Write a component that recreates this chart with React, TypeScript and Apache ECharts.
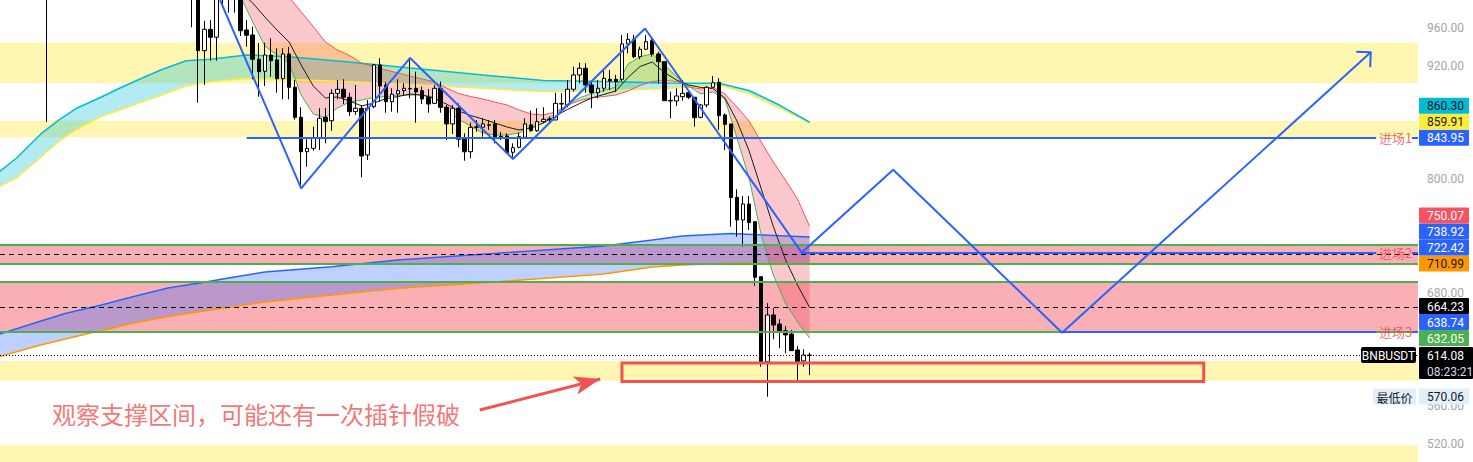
import React, { useEffect, useRef } from 'react';
import * as echarts from 'echarts';

const W = 1473;
const H = 462;
const PLOT_RIGHT = 1418;
const FONT = 'Roboto, "Noto Sans", sans-serif';
const CJK = '"Noto Sans CJK SC", "Noto Sans", sans-serif';

// candles: [barIndex, open, close, low, high]
const candles: number[][] = [
  [8, 1030, 1040, 860.6, 1050],
  [32, 1000, 995, 960.7, 1010],
  [33, 1000, 936.0, 881.0, 1010],
  [34, 936.0, 958.6, 900.0, 967.7],
  [35, 958.6, 950.2, 925.4, 968.5],
  [36, 950.2, 995, 925.4, 1005],
  [37, 1000, 1010, 981.9, 1015],
  [38, 1005, 995, 976.2, 1012],
  [39, 995, 1005, 976.2, 1010],
  [40, 998, 957.1, 951.5, 1005],
  [41, 957.9, 952.3, 940.2, 968.5],
  [42, 952.6, 926.9, 905.7, 961.4],
  [43, 926.9, 913.8, 887.3, 944.1],
  [44, 914.2, 931.4, 898.6, 944.5],
  [45, 931.4, 925.4, 908.5, 949.1],
  [46, 926.2, 906.4, 891.6, 938.5],
  [47, 906.4, 932.5, 884.6, 938.5],
  [48, 932.5, 897.3, 884.6, 940.2],
  [49, 897.3, 865.5, 863.0, 905.0],
  [50, 865.5, 829.1, 790.4, 876.1],
  [51, 829.1, 832.7, 813.3, 842.3],
  [52, 832.7, 844.0, 830.2, 855.6],
  [53, 843.3, 864.5, 830.9, 875.1],
  [54, 865.5, 860.9, 838.0, 875.1],
  [55, 861.9, 890.9, 851.4, 895.2],
  [56, 890.9, 895.2, 884.6, 905.0],
  [57, 895.2, 886.7, 879.6, 905.7],
  [58, 886.7, 871.5, 866.9, 891.6],
  [59, 871.5, 875.1, 868.0, 899.7],
  [60, 875.1, 824.6, 802.1, 878.6],
  [61, 825.7, 875.1, 820.4, 883.8],
  [62, 876.8, 920.9, 875.1, 921.9],
  [63, 920.9, 898.6, 882.0, 928.0],
  [64, 899.7, 882.0, 870.4, 902.9],
  [65, 882.0, 889.9, 871.5, 896.2],
  [66, 890.2, 893.7, 870.4, 905.7],
  [67, 893.7, 896.2, 889.1, 901.5],
  [68, 895.5, 896.0, 885.6, 928.0],
  [69, 896.2, 892.3, 859.8, 913.8],
  [70, 893.7, 884.9, 879.6, 897.9],
  [71, 886.7, 879.6, 870.4, 895.2],
  [72, 880.3, 896.2, 879.6, 899.7],
  [73, 896.2, 876.1, 870.4, 903.2],
  [74, 876.1, 858.5, 841.5, 878.6],
  [75, 858.5, 875.1, 847.9, 878.6],
  [76, 875.1, 842.3, 833.8, 880.3],
  [77, 843.3, 829.1, 819.6, 848.6],
  [78, 829.1, 854.9, 822.2, 859.8],
  [79, 854.9, 855.5, 850.3, 862.7],
  [80, 855.0, 858.5, 845.0, 864.5],
  [81, 857.0, 857.6, 852.1, 862.7],
  [82, 858.5, 843.3, 838.0, 862.7],
  [83, 845.5, 844.6, 841.5, 850.0],
  [84, 845.8, 828.1, 827.5, 848.6],
  [85, 828.5, 833.4, 822.2, 838.0],
  [86, 833.8, 845.0, 832.7, 849.2],
  [87, 844.4, 858.5, 843.0, 864.5],
  [88, 857.4, 851.4, 850.3, 872.5],
  [89, 851.4, 860.9, 850.3, 875.1],
  [90, 860.9, 863.4, 859.2, 876.1],
  [91, 863.0, 863.6, 860.9, 866.2],
  [92, 862.7, 880.3, 862.7, 891.6],
  [93, 880.0, 879.6, 873.3, 891.0],
  [94, 878.6, 895.2, 876.1, 905.0],
  [95, 895.2, 910.3, 892.6, 919.1],
  [96, 910.3, 917.4, 901.5, 923.3],
  [97, 917.4, 899.7, 891.6, 922.7],
  [98, 899.7, 891.6, 875.1, 904.3],
  [99, 891.6, 896.2, 885.6, 905.0],
  [100, 896.2, 906.8, 892.6, 915.6],
  [101, 905.7, 903.9, 894.4, 915.6],
  [102, 905.7, 903.2, 892.6, 910.3],
  [103, 905.7, 943.1, 903.2, 952.6],
  [104, 943.1, 948.0, 933.2, 954.4],
  [105, 948.0, 929.6, 928.0, 952.6],
  [106, 929.6, 937.5, 926.9, 940.2],
  [107, 937.5, 945.5, 936.7, 952.6],
  [108, 946.6, 932.5, 929.6, 949.1],
  [109, 932.5, 924.4, 901.5, 934.9],
  [110, 924.4, 883.1, 883.1, 924.4],
  [111, 883.4, 882.8, 864.5, 892.6],
  [112, 882.8, 888.1, 877.5, 896.2],
  [113, 887.3, 890.9, 883.1, 905.0],
  [114, 891.6, 886.7, 884.9, 893.4],
  [115, 886.7, 865.1, 855.6, 886.7],
  [116, 865.5, 878.5, 864.5, 879.6],
  [117, 878.6, 897.3, 876.1, 898.6],
  [118, 897.3, 902.1, 897.3, 909.2],
  [119, 902.6, 867.2, 852.1, 906.8],
  [120, 868.0, 858.1, 830.9, 869.8],
  [121, 858.5, 780.6, 749.8, 858.5],
  [122, 780.9, 756.9, 739.2, 789.4],
  [123, 756.9, 773.8, 728.7, 782.3],
  [124, 773.8, 754.1, 746.3, 782.3],
  [125, 755.1, 696.3, 687.1, 755.1],
  [126, 696.9, 607.0, 601.7, 696.9],
  [127, 607.0, 656.4, 570.06, 668.8],
  [128, 656.4, 645.8, 630.7, 663.5],
  [129, 646.9, 638.7, 621.2, 651.9],
  [130, 639.8, 635.3, 615.9, 644.8],
  [131, 636.3, 618.7, 618.7, 640.5],
  [132, 619.4, 607.0, 587.7, 623.6],
  [133, 607.8, 614.1, 601.7, 620.1],
  [134, 613.6, 614.08, 592.9, 616.5],
];

// fast MA ribbon (red slow line, green fast line, black line)
const fastIdx = [40, 42, 44, 46, 48, 50, 52, 54, 56, 58, 60, 62, 64, 66, 68, 70, 72, 74, 76, 78, 80, 82, 84, 86, 88, 90, 92, 94, 96, 98, 100, 102, 104, 106, 108, 110, 112, 114, 116, 118, 120, 122, 124, 126, 128, 130, 132, 134];
const fastRed = [1040, 1025, 1012, 1002, 992.8, 977.1, 961.6, 945.2, 936.7, 930.9, 922.7, 919.3, 915.6, 912.4, 909.2, 906.1, 902.9, 896.5, 890.7, 887.5, 884.9, 881.7, 878.5, 873.3, 869.0, 868.0, 871.1, 878.5, 883.3, 886.0, 887.5, 889.1, 893.4, 899.2, 903.4, 904.5, 903.4, 897.6, 895.5, 897.6, 890.2, 876.4, 861.6, 839.4, 818.3, 799.2, 779.1, 750.07];
const fastGreen = [993, 966.3, 941.0, 931.4, 923.0, 889.1, 869.0, 865.3, 875.4, 881.7, 883.8, 886.6, 887.5, 888.6, 889.1, 889.1, 887.0, 873.3, 863.7, 856.1, 848.9, 846.8, 846.8, 848.9, 856.3, 861.6, 869.0, 879.1, 886.0, 890.7, 893.9, 897.5, 921.9, 929.6, 932.5, 920.9, 908.7, 898.6, 890.2, 892.3, 884.9, 843.6, 801.3, 741.0, 698.7, 669.1, 649.0, 632.05];
const fastBlack = [998, 986.4, 971.6, 957.9, 945.2, 920.9, 898.6, 886.0, 887.0, 882.8, 877.5, 880.7, 885.1, 887.5, 890.1, 889.1, 885.4, 879.6, 872.2, 867.4, 863.7, 859.5, 855.3, 852.1, 854.2, 859.5, 866.9, 873.8, 880.1, 886.0, 889.7, 893.4, 907.6, 919.3, 924.0, 912.9, 905.0, 899.7, 897.1, 896.0, 886.0, 861.6, 830.0, 790.0, 750.0, 715.0, 688.0, 664.23];

// tunnel (cyan upper / yellow lower)
const vegasIdx = [0, 3, 7, 10, 13, 17, 20, 23, 27, 31, 35, 41, 48, 57, 68, 80, 90, 100, 110, 119, 124, 129, 134];
const vegasCyan = [807.1, 822.5, 847.9, 862.7, 875.4, 887.0, 896.2, 905.0, 916.1, 925.4, 926.9, 931.4, 929.6, 924.6, 917.7, 910.3, 904.5, 903.4, 901.8, 901.5, 893.9, 878.5, 860.3];
const vegasYellow = [791.8, 801.3, 823.5, 840.2, 852.9, 866.4, 873.3, 880.1, 889.1, 898.6, 903.2, 906.6, 905.5, 903.4, 900.2, 896.2, 892.8, 893.7, 896.0, 899.7, 890.7, 875.4, 859.91];

// slow band (blue upper / orange lower)
const slowIdx = [0, 6, 11, 17, 22, 28, 33, 39, 44, 55, 66, 83, 100, 108, 113, 121, 134];
const slowBlue = [635.8, 648.0, 658.0, 667.0, 675.5, 685.0, 689.9, 696.6, 701.9, 707.5, 714.6, 722.0, 729.4, 735.7, 739.9, 742.6, 738.92];
const slowOrange = [612.0, 623.1, 631.0, 640.0, 647.4, 654.8, 659.9, 665.4, 670.2, 677.6, 684.6, 691.8, 699.8, 707.2, 709.3, 711.4, 710.99];

// price axis
const Y_MIN = 500.9;
const Y_MAX = 989.6;
const tickLabels = [520, 560, 680, 800, 920, 960];

// horizontal zones
const yellowBands = [[944.5, 901.5], [861.9, 844.4], [607.8, 586.9], [518.9, 470]];
const pinkZones = [[731.2, 710.7], [691.6, 638.7]];
const zoneBorders = [731.2, 710.7, 691.6, 638.7];
const zoneMids = [720.9, 664.5];

// entry lines
const entryNames = ['进场1', '进场2', '进场3'];
const entryValues = [843.95, 722.42, 638.74];
const entryStarts = [41, 132.7, 175.7];
const entryGap = [227.6, 233.5];
const entryLabelX = 230.8;
const X_MIN = 0.25;
const X_MAX = 234.5;

// projected path
const zigzag = [[36.6, 989.6], [50, 790.4], [68, 928.3], [85, 821.4], [106.8, 959.5], [132.7, 722.4], [147.8, 810.1], [175.7, 637.7], [226.7, 934.3]];
const arrowHead = [[224.3, 934.9], [226.7, 934.3], [226.6, 918.6]];

// support box + note
const supportBox = [[103, 605.6], [199.1, 586.1]];
const noteArrow = [[79.5, 555.9], [99.4, 588.7]];
const noteText = '观察支撑区间，可能还有一次插针假破';
const notePos = [8.77, 552.7];

const lastPrice = 614.08;
const lastTime = '08:23:21';
const symbolName = 'BNBUSDT';
const lowPrice = 570.06;
const lowName = '最低价';

const tagValues = [860.30, 859.91, 843.95, 750.07, 738.92, 722.42, 710.99, 664.23, 638.74, 632.05, 614.08, 570.06];
const tagBg = ['#00bcd4', '#ffeb3b', '#2962ff', '#f7525f', '#2962ff', '#2962ff', '#ff9800', '#000000', '#2962ff', '#4caf50', '#000000', '#e3eefb'];
const tagFg = ['#131722', '#131722', '#ffffff', '#ffffff', '#ffffff', '#ffffff', '#131722', '#ffffff', '#ffffff', '#ffffff', '#ffffff', '#131722'];

const pairs = (idx: number[], vals: number[]) => idx.map((x, k) => [x, vals[k]]);
const dummy = [[-10, 600]];

// fill between two lines, colour by which is on top
function bandFill(idx: number[], a: number[], b: number[], colorAUp: string, colorBUp: string, z: number): any {
  return {
    type: 'custom', z, silent: true, clip: true,
    data: idx.map((x, k) => [x, a[k], b[k]]),
    encode: { x: 0, y: [1, 2] },
    renderItem: (params: any, api: any) => {
      if (params.dataIndex !== 0) return null;
      const runs: { up: boolean; top: number[][]; bot: number[][] }[] = [];
      let cur: { up: boolean; top: number[][]; bot: number[][] } | null = null;
      for (let k = 0; k < idx.length; k++) {
        const d = a[k] - b[k];
        const up = d >= 0;
        if (!cur) {
          cur = { up, top: [[idx[k], a[k]]], bot: [[idx[k], b[k]]] };
          runs.push(cur);
          continue;
        }
        if (up !== cur.up) {
          const dPrev = a[k - 1] - b[k - 1];
          const t = dPrev / (dPrev - d);
          const cx = idx[k - 1] + t * (idx[k] - idx[k - 1]);
          const cy = a[k - 1] + t * (a[k] - a[k - 1]);
          cur.top.push([cx, cy]);
          cur.bot.push([cx, cy]);
          cur = { up, top: [[cx, cy]], bot: [[cx, cy]] };
          runs.push(cur);
        }
        cur.top.push([idx[k], a[k]]);
        cur.bot.push([idx[k], b[k]]);
      }
      const children = runs.map((r) => ({
        type: 'polygon',
        shape: { points: [...r.top, ...r.bot.slice().reverse()].map((p) => api.coord(p)) },
        style: { fill: r.up ? colorAUp : colorBUp, stroke: 'none' },
      }));
      return { type: 'group', children };
    },
  };
}

function lineS(data: number[][], color: string, width: number, z: number): any {
  return { type: 'line', data, symbol: 'none', lineStyle: { color, width }, z, silent: true };
}

function buildOption(): any {
  const entrySegments: any[] = [];
  entryValues.forEach((v, k) => {
    const ls = { color: '#2962ff', width: 2, type: 'solid' };
    entrySegments.push([{ coord: [entryStarts[k], v], lineStyle: ls }, { coord: [entryGap[0], v] }]);
    entrySegments.push([{ coord: [entryGap[1], v], lineStyle: ls }, { coord: [X_MAX, v] }]);
  });

  const hidden = { type: 'line', data: dummy, symbol: 'none', lineStyle: { opacity: 0 }, silent: true };

  return {
    animation: false,
    backgroundColor: '#ffffff',
    grid: { left: 0, right: W - PLOT_RIGHT, top: 0, bottom: 0, containLabel: false },
    xAxis: { type: 'value', min: X_MIN, max: X_MAX, show: false },
    yAxis: {
      type: 'value', position: 'right', min: Y_MIN, max: Y_MAX,
      axisLine: { show: false }, axisTick: { show: false }, splitLine: { show: false },
      axisLabel: { customValues: tickLabels, color: '#a3a6ae', fontSize: 12, fontFamily: FONT, margin: 9, formatter: (v: number) => v.toFixed(2) },
    },
    series: [
      {
        ...hidden, z: 1,
        markArea: {
          silent: true, z: 1,
          data: [
            ...yellowBands.map(([a, b]) => [{ yAxis: a, itemStyle: { color: 'rgba(255,235,59,0.4)' } }, { yAxis: b }]),
            ...pinkZones.map(([a, b]) => [{ yAxis: a, itemStyle: { color: 'rgba(242,54,69,0.4)' } }, { yAxis: b }]),
          ],
        },
      },
      // band fills
      bandFill(slowIdx, slowBlue, slowOrange, 'rgba(41,98,255,0.3)', 'rgba(41,98,255,0.3)', 2),
      bandFill(vegasIdx, vegasCyan, vegasYellow, 'rgba(0,188,212,0.3)', 'rgba(0,188,212,0.3)', 2),
      bandFill(fastIdx, fastRed, fastGreen, 'rgba(242,54,69,0.27)', 'rgba(76,175,80,0.3)', 2),
      // band edges
      lineS(pairs(slowIdx, slowOrange), '#ff9800', 1.5, 2),
      lineS(pairs(slowIdx, slowBlue), '#2962ff', 1.5, 2),
      lineS(pairs(vegasIdx, vegasYellow), '#ffeb3b', 1.5, 2),
      lineS(pairs(vegasIdx, vegasCyan), '#00bcd4', 1.5, 2),
      lineS(pairs(fastIdx, fastRed), '#f7525f', 1, 2),
      lineS(pairs(fastIdx, fastGreen), '#4caf50', 1, 2),
      lineS(pairs(fastIdx, fastBlack), '#1a1a1a', 1, 2),
      // candles
      {
        type: 'candlestick', data: candles, encode: { x: 0, y: [1, 2, 3, 4] }, barWidth: 4, clip: true, z: 3, silent: true,
        itemStyle: { color: '#ffffff', color0: '#000000', borderColor: '#000000', borderColor0: '#000000', borderWidth: 1 },
      },
      // levels
      {
        ...hidden, z: 4,
        markLine: {
          silent: true, z: 4, symbol: ['none', 'none'], label: { show: false },
          data: [
            ...zoneBorders.map((v) => ({ yAxis: v, lineStyle: { color: '#4caf50', width: 2, type: 'solid' } })),
            ...zoneMids.map((v) => ({ yAxis: v, lineStyle: { color: '#000000', width: 1, type: [5, 4] } })),
            { yAxis: lastPrice, lineStyle: { color: '#000000', width: 1, type: [1, 2] } },
          ],
        },
      },
      // entry lines
      { ...hidden, z: 5, markLine: { silent: true, z: 5, symbol: ['none', 'none'], label: { show: false }, data: entrySegments } },
      {
        type: 'scatter', z: 8, silent: true, symbolSize: 1, itemStyle: { color: 'rgba(0,0,0,0)' },
        data: entryValues.map((v, k) => ({ value: [entryLabelX, v], name: entryNames[k] })),
        label: { show: true, position: 'inside', formatter: (p: any) => p.name, color: '#f4474f', fontSize: 13, fontFamily: CJK },
      },
      // projected path
      lineS(zigzag, '#2962ff', 2, 6),
      lineS(arrowHead, '#2962ff', 2, 6),
      // support box
      {
        ...hidden, z: 7,
        markArea: {
          silent: true, z: 7,
          itemStyle: { color: 'rgba(0,0,0,0)', borderColor: '#f25252', borderWidth: 3 },
          data: [[{ coord: supportBox[0] }, { coord: supportBox[1] }]],
        },
      },
      // note arrow
      {
        ...hidden, z: 7,
        markLine: {
          silent: true, z: 7, symbol: ['none', 'arrow'], symbolSize: [14, 26], label: { show: false },
          lineStyle: { color: '#f25252', width: 3, type: 'solid' },
          data: [[{ coord: noteArrow[0] }, { coord: noteArrow[1] }]],
        },
      },
      {
        type: 'scatter', z: 8, silent: true, symbolSize: 1, itemStyle: { color: 'rgba(0,0,0,0)' },
        data: [{ value: notePos, name: noteText }],
        label: { show: true, position: 'right', distance: 0, formatter: (p: any) => p.name, color: '#f25252', fontSize: 24, fontFamily: CJK },
      },
    ],
  };
}

function buildTags(chart: any): any[] {
  const items = tagValues.map((v, k) => ({
    v, k, y: chart.convertToPixel({ yAxisIndex: 0 }, v) as number,
    two: v === lastPrice,
  }));
  items.sort((a, b) => b.y - a.y);
  const els: any[] = [];
  let prevTop = Infinity;
  const x0 = PLOT_RIGHT + 1;
  for (const it of items) {
    const h = it.two ? 32 : 16;
    const top = Math.min(it.y - 8, prevTop - h);
    prevTop = top;
    const w = it.two ? W - x0 : 50;
    els.push({ type: 'rect', z: 100, shape: { x: x0, y: top, width: w, height: h, r: 1 }, style: { fill: tagBg[it.k] } });
    els.push({ type: 'text', z: 101, x: x0 + 8, y: top + 8.5, style: { text: it.v.toFixed(2), fill: tagFg[it.k], font: `12px ${FONT}`, textVerticalAlign: 'middle', textAlign: 'left' } });
    if (it.two) {
      els.push({ type: 'text', z: 101, x: x0 + 8, y: top + 24.5, style: { text: lastTime, fill: '#d8dae0', font: `12px ${FONT}`, textVerticalAlign: 'middle', textAlign: 'left' } });
      els.push({ type: 'rect', z: 100, shape: { x: PLOT_RIGHT - 57, y: top, width: 55, height: 16, r: 2 }, style: { fill: '#000000' } });
      els.push({ type: 'text', z: 101, x: PLOT_RIGHT - 29.5, y: top + 8.5, style: { text: symbolName, fill: '#ffffff', font: `12px ${FONT}`, textVerticalAlign: 'middle', textAlign: 'center' } });
    }
    if (it.v === lowPrice) {
      els.push({ type: 'rect', z: 100, shape: { x: PLOT_RIGHT - 45, y: top, width: 43, height: 16, r: 1 }, style: { fill: tagBg[it.k] } });
      els.push({ type: 'text', z: 101, x: PLOT_RIGHT - 23.5, y: top + 8.5, style: { text: lowName, fill: '#131722', font: `12px ${CJK}`, textVerticalAlign: 'middle', textAlign: 'center' } });
    }
  }
  return els;
}

export default function App() {
  const ref = useRef<HTMLDivElement>(null);
  useEffect(() => {
    if (!ref.current) return;
    const chart = echarts.init(ref.current, null, { renderer: 'svg' });
    chart.setOption(buildOption());
    chart.setOption({ graphic: { elements: buildTags(chart) } });
    return () => chart.dispose();
  }, []);
  return <div ref={ref} style={{ position: 'absolute', left: 0, top: 0, width: W, height: H, background: '#ffffff' }} />;
}
